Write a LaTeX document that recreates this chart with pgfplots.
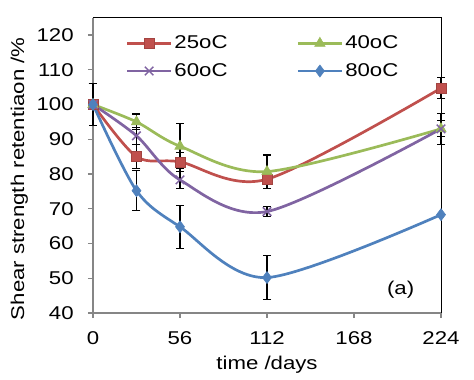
\documentclass[border=0pt]{standalone}
\usepackage{pgfplots}
\pgfplotsset{compat=1.18}
\usepackage{fontspec}
\setmainfont[FakeStretch=1.2]{Liberation Sans}
\definecolor{cred}{HTML}{C0504D}
\definecolor{cgreen}{HTML}{9BBB59}
\definecolor{cpurple}{HTML}{8064A2}
\definecolor{cblue}{HTML}{4F81BD}
\definecolor{axgray}{HTML}{868686}
\newcommand{\bigf}{\fontsize{18.5}{22}\selectfont}
\begin{document}
\bigf
\begin{tikzpicture}
\begin{axis}[
  scale only axis,
  width=348pt, height=295pt,
  xmin=0, xmax=224, ymin=40, ymax=124.9,
  xtick={0,56,112,168,224},
  ytick={40,50,...,120},
  axis x line*=bottom, axis y line*=left,
  axis line style={axgray, line width=1.5pt, -},
  tick style={axgray, line width=1.2pt},
  tick align=outside,
  major tick length=5pt,
  /pgf/number format/assume math mode=true,
  tick label style={font=\bigf},
  yticklabel style={xshift=-8pt},
  xticklabel style={yshift=-7pt},
  label style={font=\bigf},
  xlabel={time /days},
  ylabel={Shear strength retentiaon /\%},
  xlabel style={yshift=1pt},
  ylabel style={at={(ticklabel cs:0.455)}, yshift=-4pt},
  clip=false,
  legend columns=2,
  legend style={draw=none, fill=none, at={(rel axis cs:0.085,0.955)}, anchor=north west,
    font=\bigf, /tikz/every even column/.append style={column sep=67pt},
    row sep=8pt},
  legend image code/.code={\draw[mark repeat=2,mark phase=2] plot coordinates {(0pt,0pt) (22pt,0pt) (44pt,0pt)};},
  every axis plot/.append style={line width=2.7pt, smooth, tension=0.5},
  error bars/y dir=both, error bars/y explicit,
  error bars/error bar style={black, line width=1.2pt},
  error bars/error mark options={rotate=90, black, mark size=4pt, line width=1.2pt},
]
\addplot[cred, mark=square*, mark size=5pt, mark options={solid, fill=cred, draw=cred!85!black, line width=0.6pt}]
  table[x=x, y=y, y error=e] {
x y e
0 100 6
28 85 3.5
56 83.5 2.7
112 78.5 1.5
224 104.7 3
};
\addlegendentry{25oC}
\addplot[cgreen, mark=triangle*, mark size=6pt, mark options={solid, fill=cgreen, line width=0.6pt}]
  table[x=x, y=y, y error=e] {
x y e
0 100 6
28 95 2.3
56 88 6.5
112 80.7 4.8
224 93 2.3
};
\addlegendentry{40oC}
\addplot[cpurple, mark=x, mark size=6pt, mark options={solid, line width=1.5pt}]
  table[x=x, y=y, y error=e] {
x y e
0 100 6
28 91 2.5
56 78.3 2.5
112 69.2 1.5
224 93 4.5
};
\addlegendentry{60oC}
\addplot[cblue, mark=diamond*, mark size=6pt, mark options={solid, fill=cblue, line width=0.6pt}]
  table[x=x, y=y, y error=e] {
x y e
0 100 6
28 75.2 5.7
56 64.8 6.2
112 50.2 6.3
224 68.3 0
};
\addlegendentry{80oC}
\draw[black, line width=1pt] (rel axis cs:0,1) -- (rel axis cs:1,1) -- (rel axis cs:1,0);
\node[font=\bigf] at (axis cs:198,46.6) {(a)};
\end{axis}
\pgfresetboundingbox
\useasboundingbox ([xshift=-93pt,yshift=-66pt]current axis.south west) rectangle ([xshift=33pt,yshift=18pt]current axis.north east);
\end{tikzpicture}
\end{document}
